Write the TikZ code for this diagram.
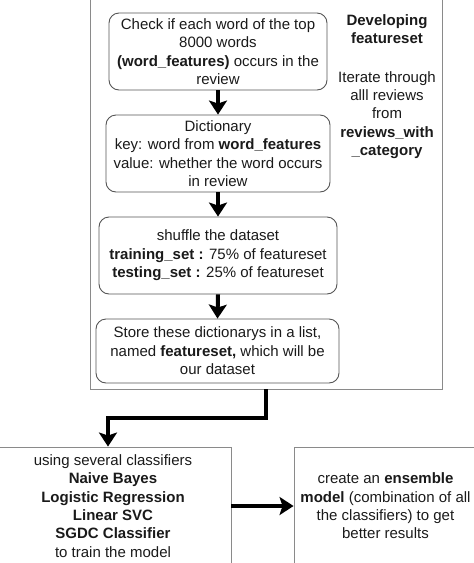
\documentclass[tikz,border=0pt]{standalone}
\usepackage{fontspec}
\setmainfont{Liberation Sans}
\usetikzlibrary{arrows.meta}
\definecolor{framegray}{HTML}{8A8A8A}
\definecolor{boxgray}{HTML}{555555}
\definecolor{txt}{HTML}{1A1A1A}
\tikzset{
  rbox/.style={draw=boxgray, line width=0.9pt, rounded corners=10pt, align=center, inner sep=0pt, text=txt, font=\fontsize{15}{18.4}\selectfont},
  sqbox/.style={draw=framegray, line width=0.9pt, align=center, inner sep=0pt, text=txt, font=\fontsize{15}{18.4}\selectfont},
  framebox/.style={draw=framegray, line width=0.9pt, inner sep=0pt},
  plain/.style={align=center, inner sep=0pt, text=txt, font=\fontsize{15}{18.4}\selectfont},
  arr/.style={line width=4pt, draw=black, -{Stealth[length=14pt, width=18pt, inset=3pt]}},
}
\begin{document}
\begin{tikzpicture}[x=1pt, y=-1pt]
\useasboundingbox (0,0) rectangle (474,563);
\node[framebox, minimum width=352pt, minimum height=394pt] (frame) at (266,192) {};
\node[rbox, minimum width=218pt, minimum height=77pt] (b1) at (218,51.5)
  {Check if each word of the top\\8000 words\\\textbf{(word\_features)} occurs in the\\review};
\node[rbox, minimum width=224pt, minimum height=77pt] (b2) at (218,153.5)
  {Dictionary\\key: word from \textbf{word\_features}\\value: whether the word occurs\\in review};
\node[rbox, minimum width=238pt, minimum height=77pt] (b3) at (218,255.5)
  {shuffle the dataset\\\textbf{training\_set :} 75\% of featureset\\\textbf{testing\_set :} 25\% of featureset};
\node[rbox, minimum width=243pt, minimum height=64pt] (b4) at (217.5,351)
  {Store these dictionarys in a list,\\named \textbf{featureset,} which will be\\our dataset};
\node[plain] (t1) at (387,29) {\textbf{Developing}\\\textbf{featureset}};
\node[plain] (t2) at (387,115) {Iterate through\\alll reviews\\from\\\textbf{reviews\_with}\\\textbf{\_category}};
\node[sqbox, minimum width=236pt, minimum height=118pt] (cls) at (113,506)
  {using several classifiers\\\textbf{Naive Bayes}\\\textbf{Logistic Regression}\\\textbf{Linear SVC}\\\textbf{SGDC Classifier}\\to train the model};
\node[sqbox, minimum width=183pt, minimum height=118pt] (ens) at (385.5,506)
  {create an \textbf{ensemble}\\\textbf{model} (combination of all\\the classifiers) to get\\better results};
\draw[arr] (b1.south) -- (b2.north);
\draw[arr] (b2.south) -- (b3.north);
\draw[arr] (b3.south) -- (b4.north);
\draw[arr] (frame.south) -- ++(0,29) -| ([xshift=-5pt]cls.north);
\draw[arr] (cls.east) -- (ens.west);
\end{tikzpicture}
\end{document}
